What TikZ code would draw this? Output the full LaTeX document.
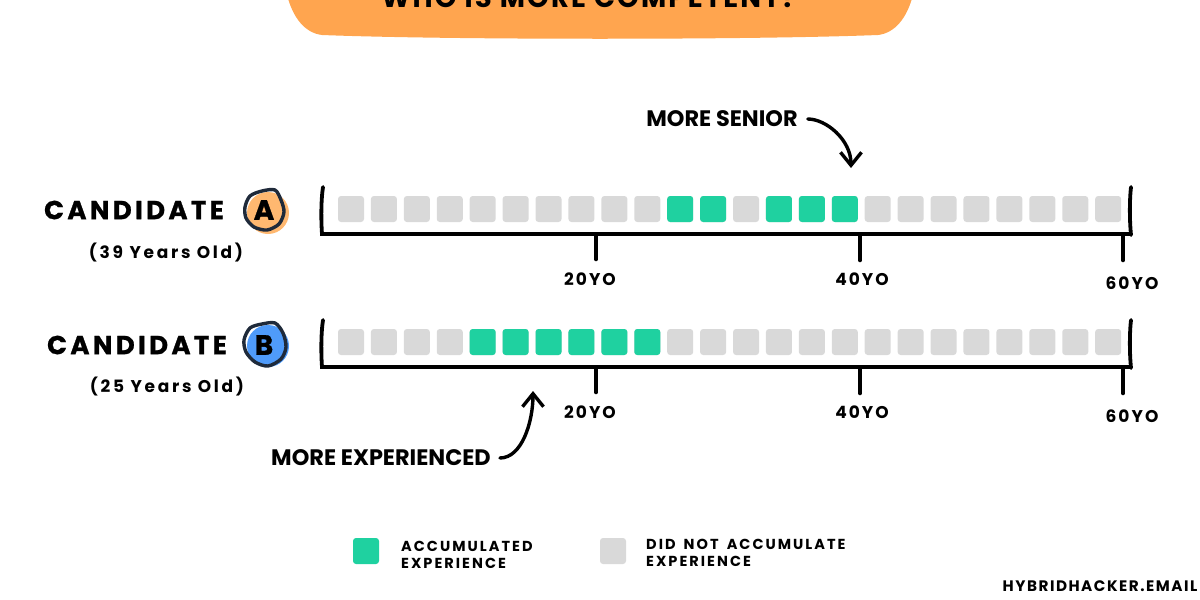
\documentclass[tikz,border=0pt]{standalone}
\usepackage{fontspec}
\setmainfont{Poppins}
\usetikzlibrary{arrows.meta}
\definecolor{accorange}{HTML}{FFA54F}
\definecolor{accgreen}{HTML}{1FD1A0}
\definecolor{accgray}{HTML}{D9D9D9}
\definecolor{accblue}{HTML}{4F9BFA}
\definecolor{accpeach}{HTML}{FFB870}
\definecolor{accink}{HTML}{1F2A3A}

\newcommand{\spaced}[1]{\addfontfeature{LetterSpace=#1}}
\newcommand{\heavy}[1]{\addfontfeature{LetterSpace=#1,FakeBold=1}}

\begin{document}
\begin{tikzpicture}[x=1pt, y=-1pt, line cap=round,
    cell/.style={rectangle, rounded corners=3pt, minimum size=26pt, inner sep=0pt, fill=#1},
    axis line/.style={line width=3.8pt, color=black},
    tick line/.style={line width=4.6pt, color=black},
    ring/.style={line width=3.4pt, color=accink},
    pointer/.style={line width=3.4pt, -{Straight Barb[length=13pt, width=21pt, line width=3.4pt]}},
    candidate/.style={font=\fontsize{26}{26}\selectfont\bfseries\heavy{13}, inner sep=0pt},
    initial/.style={font=\fontsize{28}{28}\selectfont\bfseries\heavy{0}, inner sep=0pt},
    years/.style={font=\fontsize{17}{17}\selectfont\bfseries\spaced{16}, inner sep=0pt},
    ticktext/.style={font=\fontsize{17}{17}\selectfont\bfseries\spaced{12}, inner sep=0pt},
    remark/.style={font=\fontsize{22.4}{22.4}\selectfont\bfseries, inner sep=0pt},
    legendtext/.style={font=\fontsize{14.5}{17}\selectfont\bfseries\spaced{14}, inner sep=0pt, align=left, anchor=west}]
\useasboundingbox (0,0) rectangle (1200,600);
\clip (0,0) rectangle (1200,600);

% banner
\fill[accorange] (287,-5) .. controls (293,18) and (305,33) .. (322,35) .. controls (450,40) and (750,40) .. (878,35) .. controls (895,33) and (907,18) .. (913,-5) -- cycle;
\node[font=\fontsize{27.5}{27.5}\selectfont\bfseries\spaced{8}, inner sep=0pt, anchor=base] (banner) at (589,7) {WHO IS MORE COMPETENT?};

% candidate A
\node[candidate] (candA) at (134,210) {CANDIDATE};
\fill[accpeach] (268,213) circle (21);
\draw[ring] plot[smooth cycle] coordinates {(245,207) (250,196) (262,191) (275,190) (281,200) (284,212) (279,224) (267,230) (254,227) (246,218)};
\node[initial] (letterA) at (264,210) {A};
\node[years] (ageA) at (166,253) {(39 Years Old)};

% candidate B
\node[candidate] (candB) at (137,345) {CANDIDATE};
\fill[accblue] (268,346) circle (21);
\draw[ring] plot[smooth cycle] coordinates {(244,340) (250,328) (262,324) (275,323) (283,333) (286,347) (281,359) (268,366) (255,362) (246,352)};
\node[initial] (letterB) at (264,345) {B};
\node[years] (ageB) at (167,387) {(25 Years Old)};

% timelines
\foreach \row/\dy in {A/0,B/133} {
  \begin{scope}[shift={(0,\dy)}]
    \foreach \i in {0,...,23}
      \node[cell=accgray] (cell\row\i) at (351+32.92*\i,209) {};
    \draw[axis line] (323,187) .. controls (321,200) and (321,220) .. (322,234) -- (1130,234);
    \draw[axis line] (1131,187) .. controls (1129.5,200) and (1129.5,220) .. (1131,235);
    \draw[tick line] (596,235) -- (596,259);
    \draw[tick line] (860,235) -- (860,260);
    \draw[tick line] (1123,235) -- (1123,260);
    \node[ticktext] (twenty\row) at (590,279) {20YO};
    \node[ticktext] (forty\row) at (862,279) {40YO};
    \node[ticktext] (sixty\row) at (1132,283) {60YO};
  \end{scope}
}
\foreach \i in {10,11,13,14,15}
  \node[cell=accgreen] (greenA\i) at (351+32.92*\i,209) {};
\foreach \i in {4,...,9}
  \node[cell=accgreen] (greenB\i) at (351+32.92*\i,342) {};

% remarks
\node[remark] (senior) at (722,119) {MORE SENIOR};
\coordinate (seniortip) at (851,168);
\draw[pointer, shorten <=10pt] (senior.east) to[out=0, in=90] (seniortip);
\node[remark] (experienced) at (381,458) {MORE EXPERIENCED};
\coordinate (experiencedtip) at (533,391);
\draw[pointer, shorten <=9pt] (experienced.east) to[out=0, in=-90] (experiencedtip);

% legend
\node[cell=accgreen] (keygreen) at (366,551) {};
\node[legendtext] (keygreentext) at (401,555) {ACCUMULATED\\EXPERIENCE};
\node[cell=accgray] (keygray) at (613,551) {};
\node[legendtext] (keygraytext) at (646,553) {DID\hspace{3pt} NOT\hspace{3pt} ACCUMULATE\\EXPERIENCE};

\node[font=\fontsize{15.2}{15.2}\selectfont\bfseries\spaced{10}, inner sep=0pt] (site) at (1100,586) {HYBRIDHACKER.EMAIL};
\end{tikzpicture}
\end{document}
